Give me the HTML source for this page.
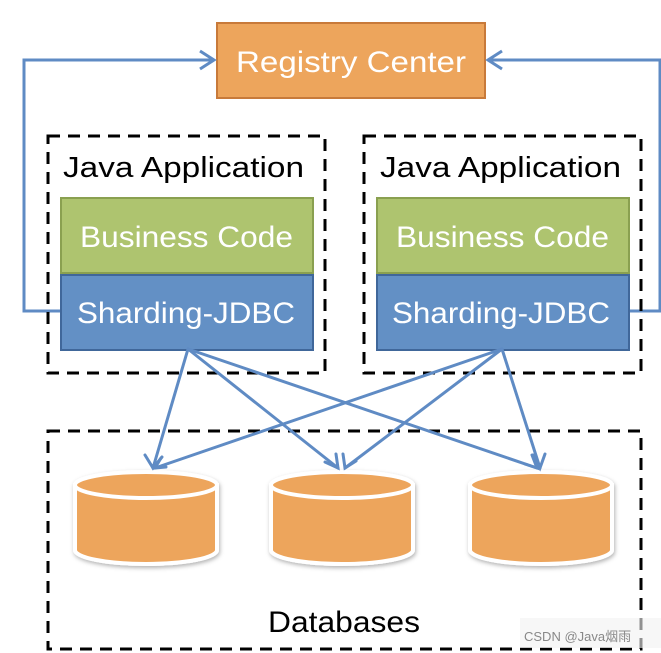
<!DOCTYPE html>
<html><head><meta charset="utf-8"><style>html,body{margin:0;padding:0;background:#fff;}svg{display:block}</style></head>
<body>
<svg width="661" height="653" viewBox="0 0 661 653" xmlns="http://www.w3.org/2000/svg" font-family="'Liberation Sans', sans-serif">
<defs>
<filter id="sh" x="-10%" y="-10%" width="130%" height="130%"><feDropShadow dx="1" dy="2" stdDeviation="2" flood-color="#000" flood-opacity="0.3"/></filter>
</defs>
<!-- registry -->
<rect x="217" y="23" width="268" height="75" fill="#eda55c" stroke="#c87a3a" stroke-width="2"/>
<text x="236" y="72" font-size="30" fill="#fff" textLength="230" lengthAdjust="spacingAndGlyphs">Registry Center</text>
<!-- side connectors -->
<g stroke="#5f8bc4" stroke-width="3" fill="none">
<polyline points="60,311 24,311 24,60 214,60"/>
<polyline points="200,51 214,60 200,69"/>
<polyline points="629,311 660,311 660,60 488,60"/>
<polyline points="502,51 488,60 502,69"/>
</g>
<!-- app boxes -->
<g stroke="#000" stroke-width="3" stroke-dasharray="12,8" fill="none">
<rect x="48" y="136" width="277" height="237"/>
<rect x="364" y="136" width="277" height="237"/>
<rect x="48" y="431" width="593" height="218"/>
</g>
<text x="63" y="177" font-size="29" fill="#000" textLength="241" lengthAdjust="spacingAndGlyphs">Java Application</text>
<text x="380" y="177" font-size="29" fill="#000" textLength="241" lengthAdjust="spacingAndGlyphs">Java Application</text>
<rect x="61" y="198" width="252" height="75" fill="#aec46f" stroke="#8aa050" stroke-width="2"/>
<rect x="377" y="198" width="252" height="75" fill="#aec46f" stroke="#8aa050" stroke-width="2"/>
<rect x="61" y="275" width="252" height="75" fill="#6390c5" stroke="#40679a" stroke-width="2"/>
<rect x="377" y="275" width="252" height="75" fill="#6390c5" stroke="#40679a" stroke-width="2"/>
<text x="80" y="247" font-size="30" fill="#fff" textLength="213" lengthAdjust="spacingAndGlyphs">Business Code</text>
<text x="396" y="247" font-size="30" fill="#fff" textLength="213" lengthAdjust="spacingAndGlyphs">Business Code</text>
<text x="77" y="323" font-size="30" fill="#fff" textLength="218" lengthAdjust="spacingAndGlyphs">Sharding-JDBC</text>
<text x="392" y="323" font-size="30" fill="#fff" textLength="218" lengthAdjust="spacingAndGlyphs">Sharding-JDBC</text>
<!-- cylinders -->
<g filter="url(#sh)" stroke="#fff" stroke-width="4" fill="#eda55c">
<path d="M75,485 L75,550 A71,14 0 0 0 217,550 L217,485 Z"/>
<ellipse cx="146" cy="485" rx="71" ry="13"/>
<path d="M271,485 L271,550 A71,14 0 0 0 413,550 L413,485 Z"/>
<ellipse cx="342" cy="485" rx="71" ry="13"/>
<path d="M470,485 L470,550 A71,14 0 0 0 612,550 L612,485 Z"/>
<ellipse cx="541" cy="485" rx="71" ry="13"/>
</g>
<!-- arrows -->
<g stroke="#5f8bc4" stroke-width="3" fill="none" stroke-linecap="round">
<line x1="188" y1="349" x2="153" y2="468"/>
<line x1="188" y1="349" x2="338" y2="468"/>
<line x1="188" y1="349" x2="537" y2="468"/>
<line x1="502" y1="349" x2="155" y2="468"/>
<line x1="502" y1="349" x2="345" y2="468"/>
<line x1="502" y1="349" x2="540" y2="468"/>
<polyline points="145,455 153,468 162,457"/>
<polyline points="166,467 155,468 161,458"/>
<polyline points="325,462 338,468 336,454"/>
<polyline points="343,454 345,468 356,461"/>
<polyline points="525,464 537,468 532,455"/>
<polyline points="533,455 540,468 545,454"/>
</g>
<text x="268" y="632" font-size="30" fill="#000" textLength="152" lengthAdjust="spacingAndGlyphs">Databases</text>
<rect x="520" y="618" width="141" height="30" fill="#f2f2f2" opacity="0.6"/>
<text x="524" y="641" font-size="13" fill="#888" font-family="'Liberation Sans','Noto Sans CJK SC',sans-serif">CSDN @Java烟雨</text>
</svg>
</body></html>
